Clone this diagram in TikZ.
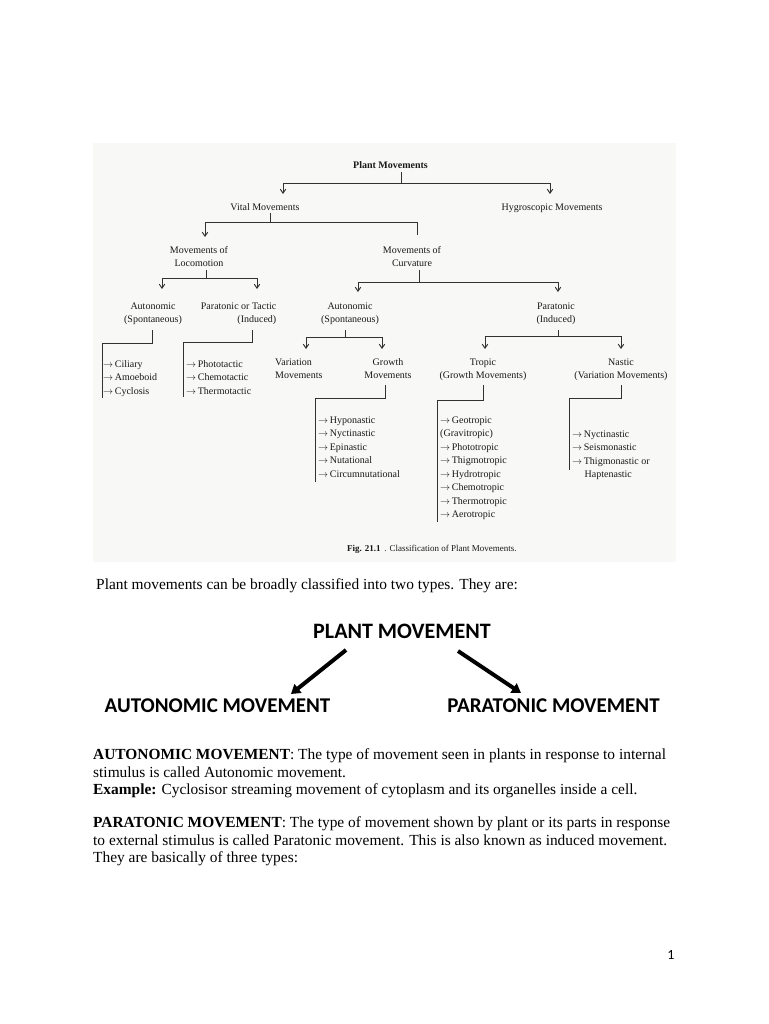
\documentclass[tikz,border=0pt]{standalone}
\usepackage{fontspec}
\setmainfont{Liberation Serif}
\newfontfamily\calibri{Carlito}
\usetikzlibrary{arrows.meta}
\newcommand{\fsz}[2]{\fontsize{#1}{#2}\selectfont}
\newcommand{\fl}[1]{\rule{0pt}{#1}}
\newcommand{\ar}{$\rightarrow$\,}
\definecolor{scanbg}{RGB}{248,248,246}
\definecolor{treeln}{RGB}{50,50,50}
\definecolor{treetx}{RGB}{25,25,25}
\begin{document}
\begin{tikzpicture}[x=1pt,y=-1pt,
  tline/.style={draw=treeln, line width=0.95pt},
  tarr/.style={tline, -{Straight Barb[length=4pt,width=5.5pt]}},
  ttext/.style={font=\fsz{10}{13.5}, inner sep=0pt, text=treetx, align=center},
  litem/.style={font=\fsz{10}{13.5}, inner sep=0pt, text=treetx, align=left, anchor=north west},
  body/.style={font=\fsz{15.4}{17.3}, inner sep=0pt, align=left, anchor=north west},
  big/.style={font=\calibri\bfseries\fsz{21}{24}, inner sep=0pt, anchor=center},
  fat/.style={line width=4pt, -{Triangle[length=9pt,width=11pt]}}
]
\fill[white] (0,0) rectangle (768,1024);
\useasboundingbox (0,0) rectangle (768,1024);
\fill[scanbg] (93,143) rectangle (676,562);

% ---------- tree text ----------
\node[ttext, anchor=base, font=\bfseries\fsz{10}{12}] (pm) at (390.5,168.5) {Plant Movements};
\node[ttext, anchor=base] (vital) at (265,210.5) {Vital Movements};
\node[ttext, anchor=base] (hyg) at (552,210.5) {Hygroscopic Movements};
\node[ttext, anchor=north] (loc) at (199,245) {\fl{8pt}Movements of\\Locomotion};
\node[ttext, anchor=north] (curv) at (412,245) {\fl{8pt}Movements of\\Curvature};
\node[ttext, anchor=north] (autoL) at (153,301) {\fl{8pt}Autonomic\\(Spontaneous)};
\node[ttext, anchor=north east, align=right] (paraT) at (276.5,301) {\fl{8pt}Paratonic or Tactic\\(Induced)};
\node[ttext, anchor=north] (autoC) at (350,301) {\fl{8pt}Autonomic\\(Spontaneous)};
\node[ttext, anchor=north] (paraI) at (556,301) {\fl{8pt}Paratonic\\(Induced)};
\node[ttext, anchor=north west, align=left] (vari) at (275,357) {\fl{8pt}Variation\\Movements};
\node[ttext, anchor=north] (growth) at (388,357) {\fl{8pt}Growth\\Movements};
\node[ttext, anchor=north] (tropic) at (483,357) {\fl{8pt}Tropic\\(Growth Movements)};
\node[ttext, anchor=north] (nastic) at (621,357) {\fl{8pt}Nastic\\(Variation Movements)};

\node[litem] (l1) at (103,359) {\fl{8pt}\ar Ciliary\\\ar Amoeboid\\\ar Cyclosis};
\node[litem] (l2) at (186,359) {\fl{8pt}\ar Phototactic\\\ar Chemotactic\\\ar Thermotactic};
\node[litem] (l3) at (318,415) {\fl{8pt}\ar Hyponastic\\\ar Nyctinastic\\\ar Epinastic\\\ar Nutational\\\ar Circumnutational};
\node[litem] (l4) at (440,415) {\fl{8pt}\ar Geotropic\\(Gravitropic)\\\ar Phototropic\\\ar Thigmotropic\\\ar Hydrotropic\\\ar Chemotropic\\\ar Thermotropic\\\ar Aerotropic};
\node[litem] (l5) at (572,429) {\fl{8pt}\ar Nyctinastic\\\ar Seismonastic\\\ar Thigmonastic or\\\hspace{1.25em}Haptenastic};

\node[ttext, anchor=base west, font=\fsz{9}{11}] (cap) at (347,551) {\textbf{Fig. 21.1} \,. Classification of Plant Movements.};

% ---------- tree connector coordinates ----------
\coordinate (s-pm) at (401,172);
\coordinate (t-vital) at (283,194);
\coordinate (t-hyg) at (550,194);
\coordinate (s-vital) at (270,213);
\coordinate (t-loc) at (205,237);
\coordinate (t-curv) at (417,235);
\coordinate (s-loc) at (206,270);
\coordinate (t-autoL) at (162,289);
\coordinate (t-paraT) at (257,289);
\coordinate (s-curv) at (419,270);
\coordinate (t-autoC) at (358,292);
\coordinate (t-paraI) at (558,292);
\coordinate (s-autoL) at (152,330);
\coordinate (e-l1) at (102,398);
\coordinate (s-paraT) at (252,330);
\coordinate (e-l2) at (183,397);
\coordinate (s-autoC) at (345,330);
\coordinate (t-vari) at (306,349);
\coordinate (t-growth) at (382,349);
\coordinate (s-paraI) at (558,330);
\coordinate (t-tropic) at (485,349);
\coordinate (t-nastic) at (621,349);
\coordinate (s-growth) at (385,385);
\coordinate (e-l3) at (315,482);
\coordinate (s-tropic) at (483,385);
\coordinate (e-l4) at (437,522);
\coordinate (s-nastic) at (621,385);
\coordinate (e-l5) at (569,470);

\draw[tarr] (s-pm) -- ++(0,11) -| (t-vital);
\draw[tarr] (s-pm) -- ++(0,11) -| (t-hyg);
\draw[tarr] (s-vital) -- ++(0,9) -| (t-loc);
\draw[tline] (s-vital) -- ++(0,9) -| (t-curv);
\draw[tarr] (s-loc) -- ++(0,8) -| (t-autoL);
\draw[tarr] (s-loc) -- ++(0,8) -| (t-paraT);
\draw[tarr] (s-curv) -- ++(0,12) -| (t-autoC);
\draw[tarr] (s-curv) -- ++(0,12) -| (t-paraI);
\draw[tline] (s-autoL) -- ++(0,13) -| (e-l1);
\draw[tline] (s-paraT) -- ++(0,12) -| (e-l2);
\draw[tarr] (s-autoC) -- ++(0,7) -| (t-vari);
\draw[tarr] (s-autoC) -- ++(0,7) -| (t-growth);
\draw[tarr] (s-paraI) -- ++(0,6) -| (t-tropic);
\draw[tarr] (s-paraI) -- ++(0,6) -| (t-nastic);
\draw[tline] (s-growth) -- ++(0,13) -| (e-l3);
\draw[tline] (s-tropic) -- ++(0,15) -| (e-l4);
\draw[tline] (s-nastic) -- ++(0,13) -| (e-l5);

% ---------- body ----------
\node[body, anchor=north west] (intro) at (96,577.5) {\fl{12pt}Plant movements can be broadly classified into two types. They are:};

\node[big, font=\calibri\bfseries\fsz{22}{24}] (PM) at (402,631) {PLANT MOVEMENT};
\node[big] (AM) at (217.5,706) {AUTONOMIC MOVEMENT};
\node[big] (PA) at (553.5,706) {PARATONIC MOVEMENT};
\coordinate (a1s) at (346,650);
\coordinate (a1e) at (291,694);
\coordinate (a2s) at (458,651);
\coordinate (a2e) at (521,693);
\draw[fat] (a1s) -- (a1e);
\draw[fat] (a2s) -- (a2e);

\node[body] (auto) at (93,747.5) {\fl{12pt}\textbf{AUTONOMIC MOVEMENT}: The type of movement seen in plants in response to internal\\stimulus is called Autonomic movement.\\\textbf{Example:} Cyclosisor streaming movement of cytoplasm and its organelles inside a cell.};
\node[body] (para) at (93,815.5) {\fl{12pt}\textbf{PARATONIC MOVEMENT}: The type of movement shown by plant or its parts in response\\to external stimulus is called Paratonic movement. This is also known as induced movement.\\They are basically of three types:};

\node[inner sep=0pt, font=\calibri\fsz{14}{16}] (pg) at (671,955) {1};
\end{tikzpicture}
\end{document}
